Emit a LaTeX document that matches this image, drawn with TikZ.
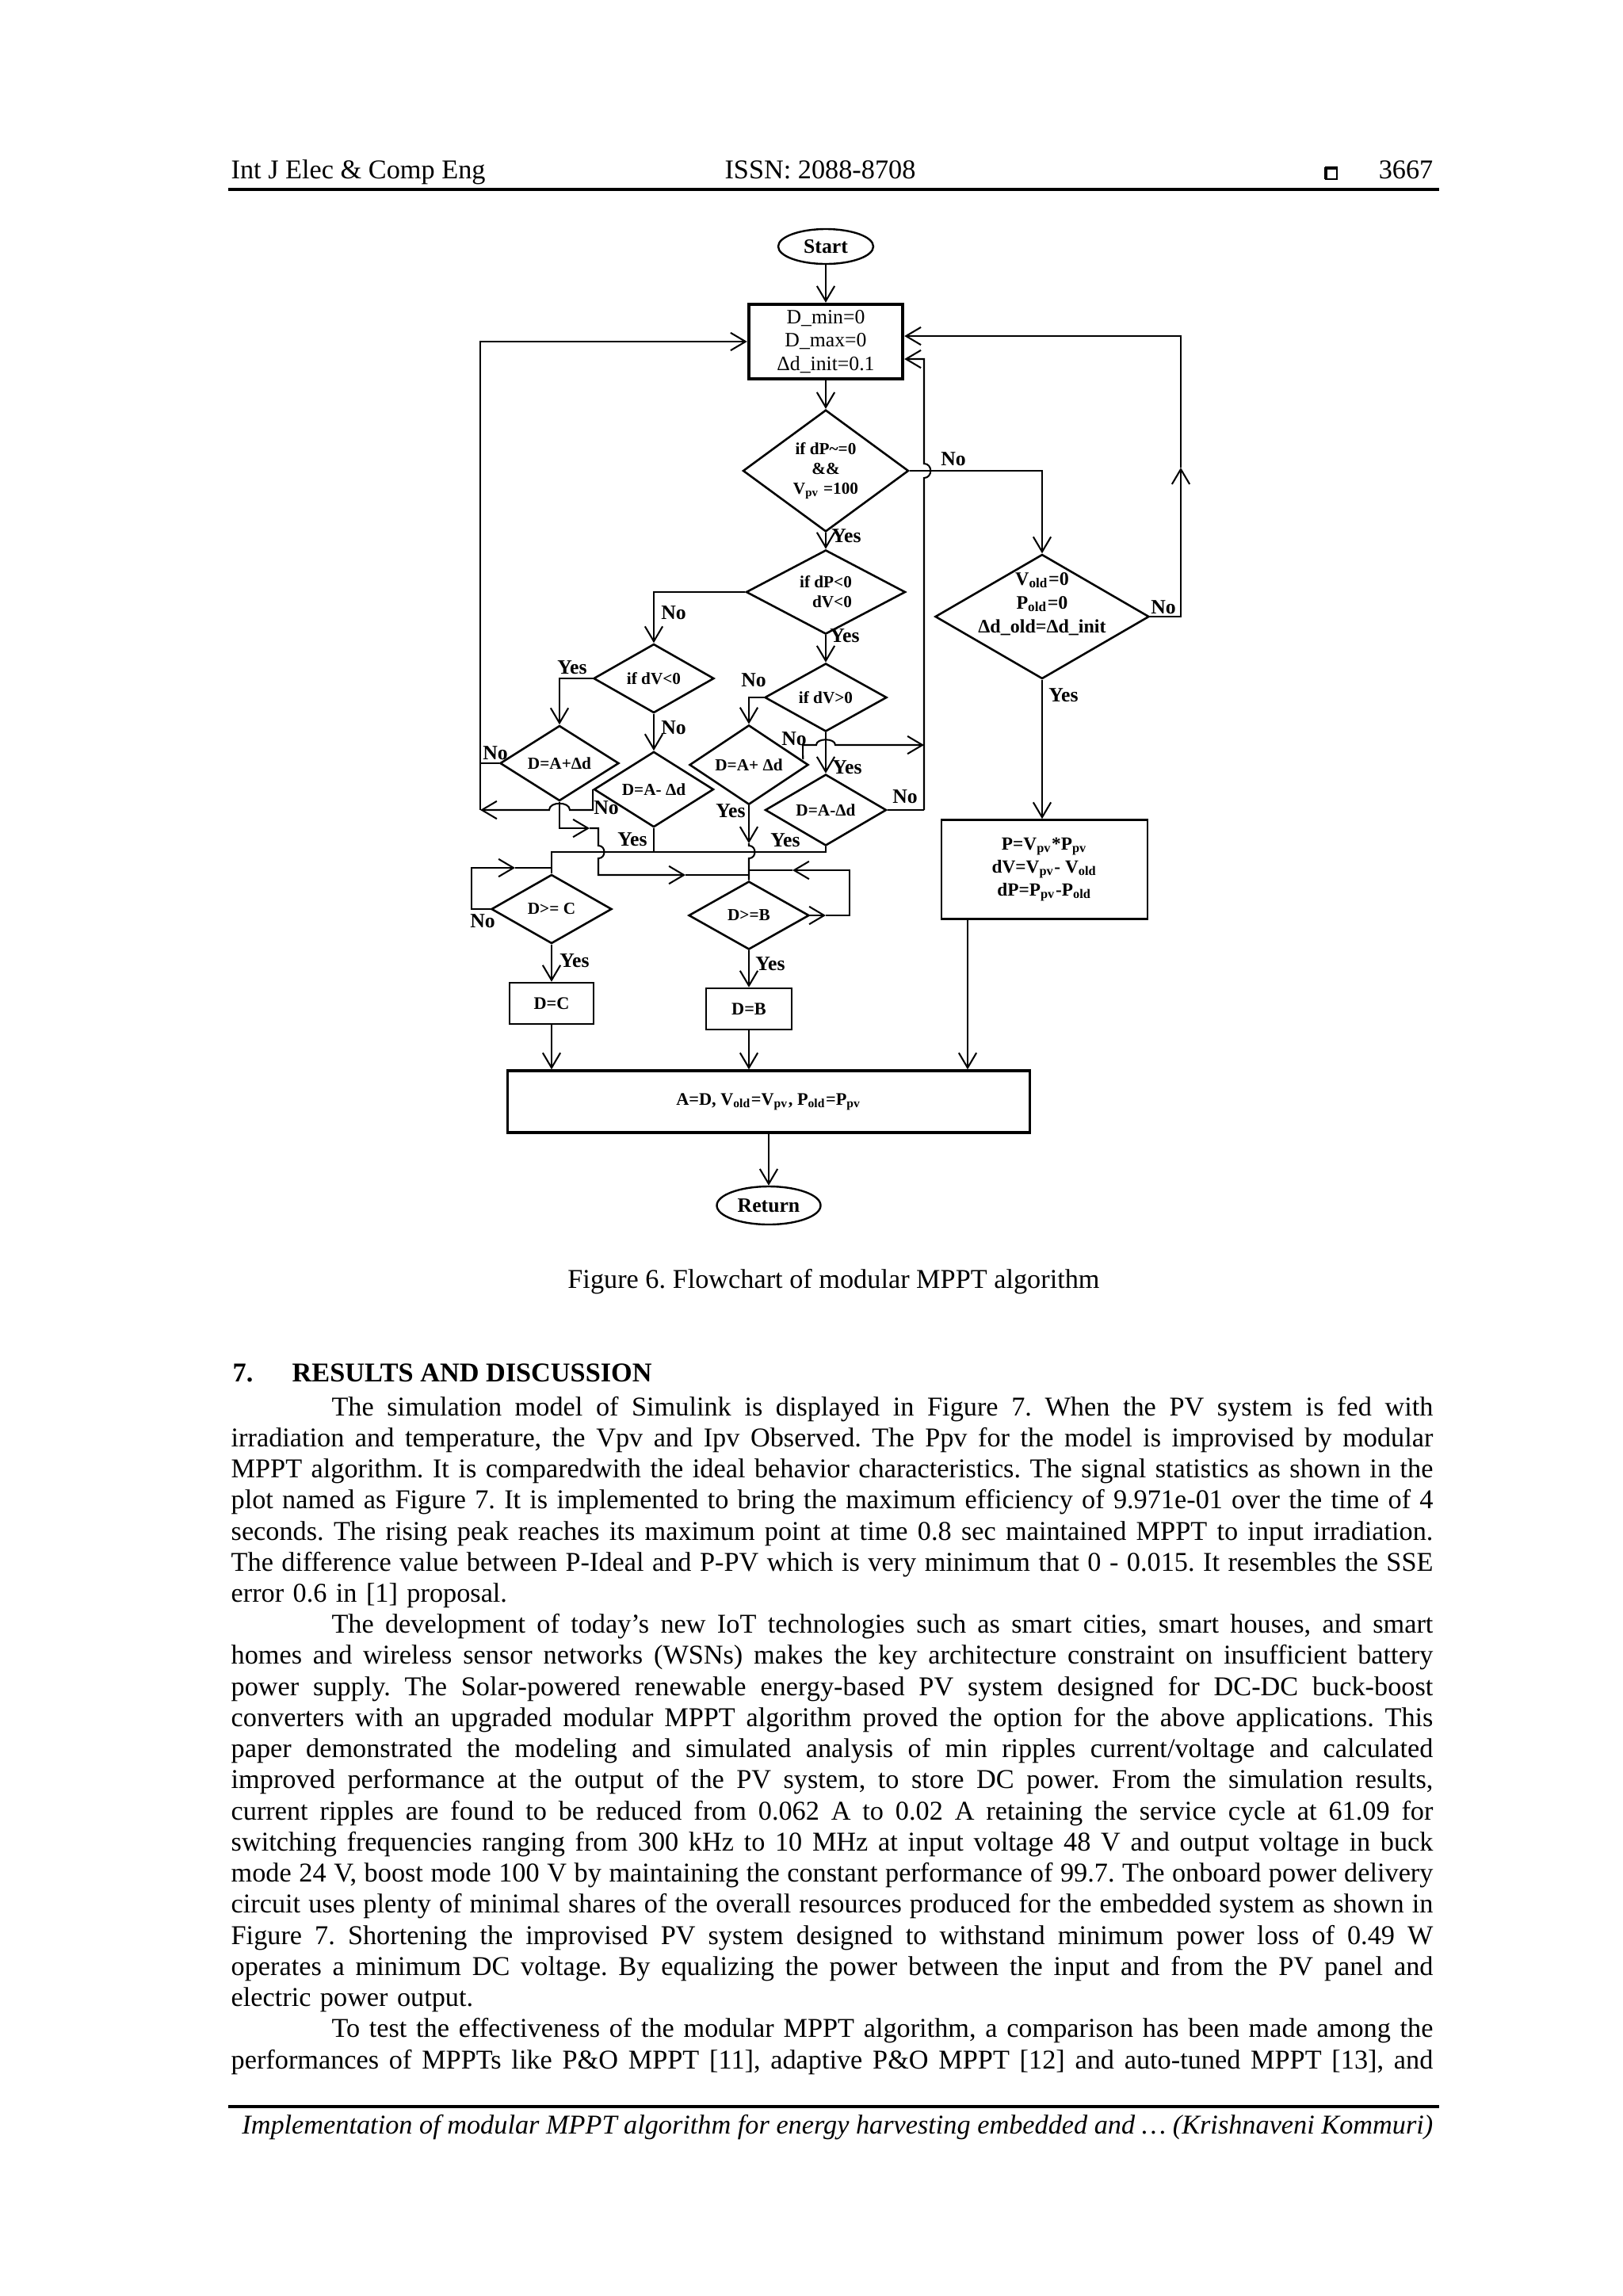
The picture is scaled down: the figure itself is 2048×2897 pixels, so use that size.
\documentclass[tikz,border=0pt]{standalone}
\usepackage{fontspec}
\setmainfont{Liberation Serif}
\usetikzlibrary{shapes.geometric,arrows.meta,calc}
\newlength\bodyw
\setlength\bodyw{442.5pt}
\newcommand\jline[1]{\hbox to \bodyw{\spaceskip=2.5pt plus 6pt minus 1.2pt\xspaceskip=\spaceskip #1}\par}
\newcommand\iline[1]{\hbox to \bodyw{\spaceskip=2.5pt plus 6pt minus 1.2pt\xspaceskip=\spaceskip \hspace*{37pt}#1}\par}
\newcommand\eline[1]{\mbox{#1}\par}
\newcommand\pvs[1]{\textsubscript{#1}}
\frenchspacing
\begin{document}
\begin{tikzpicture}[x=0.1025390625mm,y=-0.1025390625mm,
  fl/.style={line width=0.6pt},
  arr/.style={fl,-{Straight Barb[length=5.5pt,width=6.5pt]}},
  sz/.style 2 args={minimum width=#1*0.29175pt,minimum height=#2*0.29175pt},
  dia/.style={diamond,draw,line width=0.75pt,inner sep=0pt,align=center,font=\fontsize{6.2}{7.3}\selectfont\bfseries},
  box/.style={rectangle,draw,line width=0.75pt,inner sep=0pt,align=center},
  term/.style={ellipse,draw,line width=0.7pt,inner sep=0pt,font=\fontsize{7.5}{9}\selectfont\bfseries},
  lab/.style={inner sep=0pt,font=\fontsize{7.5}{9}\selectfont\bfseries},
  ptext/.style={inner sep=0pt,font=\fontsize{10}{11.45}\selectfont\frenchspacing},
]
\useasboundingbox[fill=white] (0,0) rectangle (2048,2897);

% ---------- header ----------
\node[ptext,anchor=base west] (hl) at (291,225) {Int J Elec \& Comp Eng};
\node[ptext,anchor=base] (hc) at (1035,225) {ISSN: 2088-8708};
\node[ptext,anchor=base east] (hr) at (1809,225) {3667};
\draw[line width=0.45pt] (1673,212) rectangle (1687,226);
\draw[line width=1.2pt] (1672,212) -- (1688,212);
\draw[line width=1.2pt] (1673,211) -- (1673,226);
\draw[line width=1pt] (288,239) -- (1816,239);

% ---------- flowchart nodes ----------
\node[term,sz={120}{44}] (start) at (1042,311) {Start};
\node[box,sz={194}{94},line width=1.3pt,font=\fontsize{7.5}{8.5}\selectfont] (init) at (1042,431) {D\_min=0\\D\_max=0\\Δd\_init=0.1};
\node[dia,sz={209}{124}] (d1) at (1042,594) {if dP\textasciitilde=0\\\&\&\\V\pvs{pv} =100};
\node[dia,sz={201}{71},align=right] (d2) at (1042,747) {if dP<0\\dV<0};
\node[dia,sz={152}{87}] (d3) at (825,856) {if dV<0};
\node[dia,sz={154}{86}] (d4) at (1042,880) {if dV>0};
\node[dia,sz={150}{88}] (d5) at (706,963) {D=A+Δd};
\node[dia,sz={151}{87}] (d6) at (825,996) {D=A- Δd};
\node[dia,sz={150}{86}] (d7) at (945,965) {D=A+ Δd};
\node[dia,sz={153}{89}] (d8) at (1042,1022) {D=A-Δd};
\node[dia,sz={270}{157}] (d9) at (1315,778) {};
\node[inner sep=0pt,align=center,font=\fontsize{7}{8.8}\selectfont\bfseries] (d9t) at (1315,762) {V\pvs{old}=0\\P\pvs{old}=0\\Δd\_old=Δd\_init};
\node[dia,sz={152}{87}] (dC) at (696,1147) {D>= C};
\node[dia,sz={152}{86}] (dB) at (945,1155) {D>=B};
\node[box,sz={106}{52},font=\fontsize{6.5}{8}\selectfont\bfseries] (boxC) at (696,1266) {D=C};
\node[box,sz={108}{52},font=\fontsize{6.5}{8}\selectfont\bfseries] (boxB) at (945,1273) {D=B};
\node[box,sz={260}{125},font=\fontsize{6.8}{8.5}\selectfont\bfseries] (calc) at (1318,1097) {P=V\pvs{pv}*P\pvs{pv}\\dV=V\pvs{pv}- V\pvs{old}\\dP=P\pvs{pv}-P\pvs{old}};
\node[box,sz={659}{78},line width=1pt,font=\fontsize{6.5}{8}\selectfont\bfseries] (upd) at (970,1390) {A=D, V\pvs{old}=V\pvs{pv}, P\pvs{old}=P\pvs{pv}};
\node[term,sz={131}{48}] (ret) at (970,1521) {Return};

% ---------- helper coordinates ----------
\coordinate (L1) at (606,1022);
\coordinate (R1) at (1166,1022);
\coordinate (R2) at (1166,453);
\coordinate (RR) at (1490,778);
\coordinate (RR2) at (1490,424);
\coordinate (H) at (1042,1075);
\coordinate (Y1) at (706,1045);
\coordinate (J1) at (945,1104);
\coordinate (CX) at (1221,0);

% ---------- main column ----------
\draw[arr] (start) -- (init);
\draw[arr] (init) -- (d1);
\draw[arr] (d1) -- (d2);
\draw[arr] (d2) -- (d4);
\draw[arr] (d4) -- (d8);
\draw[arr] (d1.east) -- (d1.east -| d9.north) -- (d9.north);
\draw[arr] (d2.west) -| (d3.north);
\draw[arr] (d3.west) -| (d5.north);
\draw[arr] (d3) -- (d6);
\draw[arr] (d4.west) -| (d7.north);

% left loop
\draw[fl] (d5.west) -- (d5.west -| L1);
\draw[arr] (d6.west) -- (d6.west |- L1) -- (719,1022) .. controls (719,1011) and (693,1011) .. (693,1022) -- (L1);
\draw[arr] (L1) -- (L1 |- init.west) -- (init.west);

% right loop (x=1166)
\draw[arr] ($(d7.east)+(-8,-7)$) -- (1013,940) -- (1030,940) .. controls (1030,931) and (1054,931) .. (1054,940) -- (1166,940);
\draw[fl] (d8.east) -- (R1);
\draw[arr] (R1) -- (1166,603) .. controls (1177,603) and (1177,585) .. (1166,585) -- (R2) -- (R2 -| init.east);

% far right loop (x=1490)
\draw[arr] (d9.east) -- (RR) -- (1490,590);
\draw[arr] (1490,590) -- (RR2) -- (RR2 -| init.east);
\draw[arr] (d9.south) -- (d9.south |- calc.north);
\draw[arr] (calc.south -| CX) -- (CX |- upd.north);

% bottom junctions
\draw[fl] (d8.south) -- (H) -- (H -| dC.north) -- (dC.north);
\draw[fl] (d6.south) -- (d6.south |- H);
\draw[arr] (d5.south) -- (Y1) -- (744,1045);
\draw[arr] (744,1045) -- (755,1045) -- (755,1067) .. controls (765,1067) and (765,1083) .. (755,1083) -- (755,1104) -- (865,1104);
\draw[fl] (865,1104) -- (J1);
\draw[arr] (d7.south) -- (945,1064);
\draw[fl] (945,1064) -- (945,1067) .. controls (955,1067) and (955,1083) .. (945,1083) -- (dB.north);

% D>=C loop
\draw[arr] (dC.west) -- (595,1147) -- (595,1095) -- (650,1095);
\draw[fl] (650,1095) -- (696,1095);
% D>=B loop
\draw[arr] (dB.east) -- (1042,1155);
\draw[arr] (1042,1155) -- (1072,1155) -- (1072,1098) -- (1000,1098);
\draw[fl] (1000,1098) -- (945,1098);

\draw[arr] (dC) -- (boxC);
\draw[arr] (dB) -- (boxB);
\draw[arr] (boxC) -- (boxC.south |- upd.north);
\draw[arr] (boxB) -- (boxB.south |- upd.north);
\draw[arr] (upd) -- (ret);

% ---------- labels ----------
\node[lab] (n1) at (1203,579) {No};
\node[lab] (y1) at (1068,676) {Yes};
\node[lab] (n2) at (850,773) {No};
\node[lab] (y2) at (1066,802) {Yes};
\node[lab] (y3) at (722,842) {Yes};
\node[lab] (n3) at (850,918) {No};
\node[lab] (n5) at (625,950) {No};
\node[lab] (n6) at (765,1019) {No};
\node[lab] (y6) at (798,1059) {Yes};
\node[lab] (n4) at (951,858) {No};
\node[lab] (y4) at (1069,968) {Yes};
\node[lab] (n7) at (1002,932) {No};
\node[lab] (n8) at (1142,1005) {No};
\node[lab] (y7) at (922,1023) {Yes};
\node[lab] (y8) at (991,1060) {Yes};
\node[lab] (n9) at (1468,766) {No};
\node[lab] (y9) at (1342,877) {Yes};
\node[lab] (nC) at (609,1162) {No};
\node[lab] (yC) at (725,1212) {Yes};
\node[lab] (yB) at (972,1216) {Yes};

% ---------- caption and text ----------
\node[ptext,anchor=base] (cap) at (1052,1625) {Figure 6. Flowchart of modular MPPT algorithm};
\node[ptext,anchor=base west,font=\fontsize{10}{12}\selectfont\bfseries] (secn) at (293,1743) {7.};
\node[ptext,anchor=base west,font=\fontsize{10}{12}\selectfont\bfseries] (sect) at (368,1743) {RESULTS AND DISCUSSION};

\node[ptext,anchor=base west,text width=442.5pt] (body) at (291,1786) {%
\iline{The simulation model of Simulink is displayed in Figure 7. When the PV system is fed with}
\jline{irradiation and temperature, the Vpv and Ipv Observed. The Ppv for the model is improvised by modular}
\jline{MPPT algorithm. It is comparedwith the ideal behavior characteristics. The signal statistics as shown in the}
\jline{plot named as Figure 7. It is implemented to bring the maximum efficiency of 9.971e-01 over the time of 4}
\jline{seconds. The rising peak reaches its maximum point at time 0.8 sec maintained MPPT to input irradiation.}
\jline{The difference value between P-Ideal and P-PV which is very minimum that 0 - 0.015. It resembles the SSE}
\eline{error 0.6 in [1] proposal.}
\iline{The development of today’s new IoT technologies such as smart cities, smart houses, and smart}
\jline{homes and wireless sensor networks (WSNs) makes the key architecture constraint on insufficient battery}
\jline{power supply. The Solar-powered renewable energy-based PV system designed for DC-DC buck-boost}
\jline{converters with an upgraded modular MPPT algorithm proved the option for the above applications. This}
\jline{paper demonstrated the modeling and simulated analysis of min ripples current/voltage and calculated}
\jline{improved performance at the output of the PV system, to store DC power. From the simulation results,}
\jline{current ripples are found to be reduced from 0.062 A to 0.02 A retaining the service cycle at 61.09 for}
\jline{switching frequencies ranging from 300 kHz to 10 MHz at input voltage 48 V and output voltage in buck}
\jline{mode 24 V, boost mode 100 V by maintaining the constant performance of 99.7. The onboard power delivery}
\jline{circuit uses plenty of minimal shares of the overall resources produced for the embedded system as shown in}
\jline{Figure 7. Shortening the improvised PV system designed to withstand minimum power loss of 0.49 W}
\jline{operates a minimum DC voltage. By equalizing the power between the input and from the PV panel and}
\eline{electric power output.}
\iline{To test the effectiveness of the modular MPPT algorithm, a comparison has been made among the}
\jline{performances of MPPTs like P\&O MPPT [11], adaptive P\&O MPPT [12] and auto-tuned MPPT [13], and}
};

% ---------- footer ----------
\draw[line width=1pt] (288,2658) -- (1816,2658);
\node[ptext,anchor=base east,font=\fontsize{10}{12}\selectfont\itshape] (foot) at (1809,2692) {Implementation of modular MPPT algorithm for energy harvesting embedded and … (Krishnaveni Kommuri)};
\end{tikzpicture}
\end{document}
